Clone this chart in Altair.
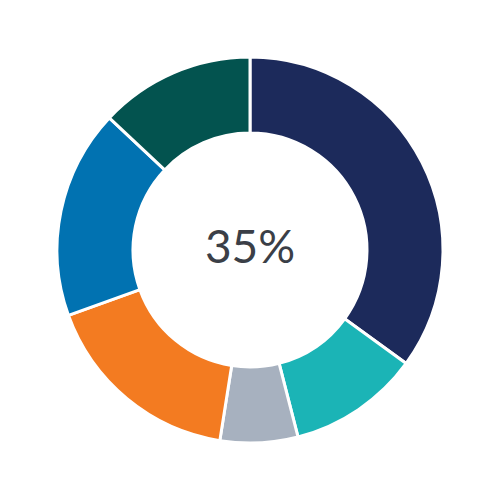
import altair as alt
import pandas as pd

categories = ["A", "B", "C", "D", "E", "F"]
values = [35, 11, 6.5, 17, 17.5, 13]
colors = ["#1c2a5b", "#1bb4b6", "#a7b1bf", "#f37b21", "#0172b1", "#03534f"]
center_label = ["35%"]

df = pd.DataFrame({"cat": categories, "value": values, "order": list(range(len(categories)))})
lab = pd.DataFrame({"text": center_label})

arc = alt.Chart(df).mark_arc(innerRadius=117, outerRadius=193, stroke="white", strokeWidth=3).encode(
    theta=alt.Theta("value:Q", stack=True),
    order=alt.Order("order:Q"),
    color=alt.Color("cat:N", scale=alt.Scale(domain=categories, range=colors), legend=None),
)

text = alt.Chart(lab).mark_text(fontSize=46, font="Lato", color="#3b3f47", baseline="middle", align="center").encode(
    text="text:N",
    x=alt.value(242),
    y=alt.value(241),
)

chart = alt.layer(arc, text).properties(
    width=484, height=484, padding=0, autosize=alt.AutoSizeParams(type="none")
).configure_view(stroke=None)

chart.save("out.html", embed_options={"renderer": "svg", "actions": False})
